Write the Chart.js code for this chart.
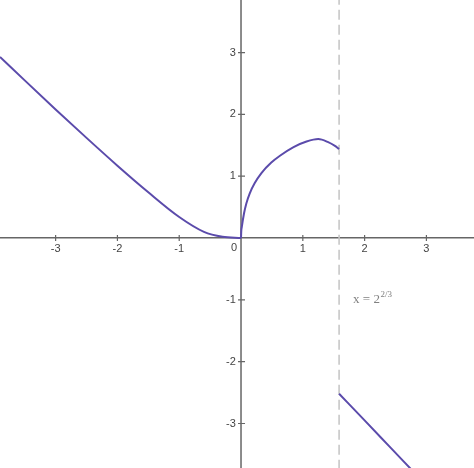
<!DOCTYPE html>
<html>
<head>
<meta charset="utf-8">
<script src="https://cdn.jsdelivr.net/npm/chart.js@4.4.0/dist/chart.umd.min.js"></script>
<style>
  html, body { margin: 0; padding: 0; background: #ffffff; }
  #wrap { width: 474px; height: 468px; }
</style>
</head>
<body>
<div id="wrap"><canvas id="c" width="474" height="468"></canvas></div>
<script>
// ---- data ----
const leftX  = [-3.9, -3.5, -3.0, -2.5, -2.0, -1.5, -1.0, -0.6, -0.3, 0];
const leftY  = [2.93, 2.55, 2.08, 1.62, 1.17, 0.74, 0.34, 0.10, 0.02, 0];

const midX   = [0, 0.004, 0.013, 0.049, 0.086, 0.14, 0.22, 0.33, 0.49, 0.63, 0.85, 1.06, 1.25, 1.41, 1.52, 1.587];
const midY   = [0, 0.11, 0.18, 0.40, 0.56, 0.72, 0.885, 1.05, 1.22, 1.33, 1.47, 1.56, 1.60, 1.55, 1.49, 1.44];

const rightX = [1.587, 2.0, 2.4, 2.8];
const rightY = [-2.52, -2.95, -3.37, -3.79];

const asymptoteX = 1.587;          // x = 2^(2/3)
const asymptoteLabel = 'x = 2';
const asymptoteSup = '2/3';

const xTicks = [-3, -2, -1, 1, 2, 3];
const yTicks = [-3, -2, -1, 1, 2, 3];
const xRange = [-3.90, 3.77];
const yRange = [-3.72, 3.85];

const pts = (xs, ys) => xs.map((x, i) => ({ x: x, y: ys[i] }));

const curveColor = '#5b4bab';
const axisColor = '#666666';
const labelColor = '#444444';

const noPad = s => { s.paddingTop = 0; s.paddingBottom = 0; s.paddingLeft = 0; s.paddingRight = 0; };

const axisExtras = {
  id: 'axisExtras',
  beforeDatasetsDraw(chart) {
    const ctx = chart.ctx;
    const xs = chart.scales.x, ys = chart.scales.y;
    const x0 = xs.getPixelForValue(0);
    const a = chart.chartArea;
    ctx.save();
    ctx.strokeStyle = axisColor;
    ctx.lineWidth = 1.5;
    ctx.beginPath();
    ctx.moveTo(x0, a.top); ctx.lineTo(x0, a.bottom);
    ctx.stroke();
    ctx.restore();
  },
  afterDraw(chart) {
    const ctx = chart.ctx;
    const xs = chart.scales.x, ys = chart.scales.y;
    const x0 = xs.getPixelForValue(0), y0 = ys.getPixelForValue(0);
    ctx.save();
    ctx.strokeStyle = axisColor;
    ctx.lineWidth = 1.2;
    ctx.beginPath();
    xs.ticks.forEach(t => {
      if (t.value === 0) return;
      const p = xs.getPixelForValue(t.value);
      ctx.moveTo(p, y0 - 3); ctx.lineTo(p, y0 + 3);
    });
    ys.ticks.forEach(t => {
      if (t.value === 0) return;
      const p = ys.getPixelForValue(t.value);
      ctx.moveTo(x0 - 3, p); ctx.lineTo(x0 + 4, p);
    });
    ctx.stroke();
    // origin label
    ctx.fillStyle = labelColor;
    ctx.font = '11px "Liberation Sans", Arial, sans-serif';
    ctx.textAlign = 'center';
    ctx.textBaseline = 'middle';
    ctx.fillText('0', x0 - 7, y0 + 10);
    // asymptote label
    const ax = xs.getPixelForValue(asymptoteX) + 14;
    const ay = ys.getPixelForValue(-1.05);
    ctx.fillStyle = '#808080';
    ctx.textAlign = 'left';
    ctx.textBaseline = 'alphabetic';
    ctx.font = '13px "Liberation Serif", "DejaVu Serif", serif';
    ctx.fillText(asymptoteLabel, ax, ay);
    const w = ctx.measureText(asymptoteLabel).width;
    ctx.font = '9px "Liberation Serif", "DejaVu Serif", serif';
    ctx.fillText(asymptoteSup, ax + w + 0.5, ay - 6);
    ctx.restore();
  }
};

new Chart(document.getElementById('c'), {
  type: 'scatter',
  data: {
    datasets: [
      { data: pts([asymptoteX, asymptoteX], [yRange[0] - 1, yRange[1] + 1]), showLine: true,
        borderColor: '#c8c8c8', borderWidth: 1.6, borderDash: [10, 5], pointRadius: 0, order: 10 },
      { data: pts(leftX, leftY), showLine: true, borderColor: curveColor, borderWidth: 2,
        pointRadius: 0, cubicInterpolationMode: 'monotone', order: 0 },
      { data: pts(midX, midY), showLine: true, borderColor: curveColor, borderWidth: 2,
        pointRadius: 0, cubicInterpolationMode: 'monotone', order: 0 },
      { data: pts(rightX, rightY), showLine: true, borderColor: curveColor, borderWidth: 2,
        pointRadius: 0, cubicInterpolationMode: 'monotone', order: 0 }
    ]
  },
  options: {
    responsive: false,
    animation: false,
    devicePixelRatio: 1,
    layout: { padding: 0 },
    plugins: { legend: { display: false }, tooltip: { enabled: false } },
    scales: {
      x: {
        type: 'linear',
        position: { y: 0 },
        min: xRange[0], max: xRange[1],
        afterFit: noPad,
        grid: { display: true, drawOnChartArea: false, drawTicks: true, tickLength: 4, color: 'rgba(0,0,0,0)' },
        border: { display: true, color: axisColor, width: 1.5 },
        afterBuildTicks: s => { s.ticks = [0].concat(xTicks).map(v => ({ value: v })); },
        ticks: {
          padding: 0,
          color: labelColor,
          font: { family: '"Liberation Sans", Arial, sans-serif', size: 11 },
          maxRotation: 0,
          autoSkip: false,
          callback: v => (v === 0 ? '' : String(v))
        }
      },
      y: {
        type: 'linear',
        position: { x: -0.085 },
        min: yRange[0], max: yRange[1],
        afterFit: noPad,
        grid: { display: true, drawOnChartArea: false, drawTicks: true, tickLength: 4, color: 'rgba(0,0,0,0)' },
        border: { display: false },
        afterBuildTicks: s => { s.ticks = [0].concat(yTicks).map(v => ({ value: v })); },
        ticks: {
          padding: 0,
          color: labelColor,
          font: { family: '"Liberation Sans", Arial, sans-serif', size: 11 },
          autoSkip: false,
          callback: v => (v === 0 ? '' : String(v))
        }
      }
    }
  },
  plugins: [axisExtras]
});
</script>
</body>
</html>
